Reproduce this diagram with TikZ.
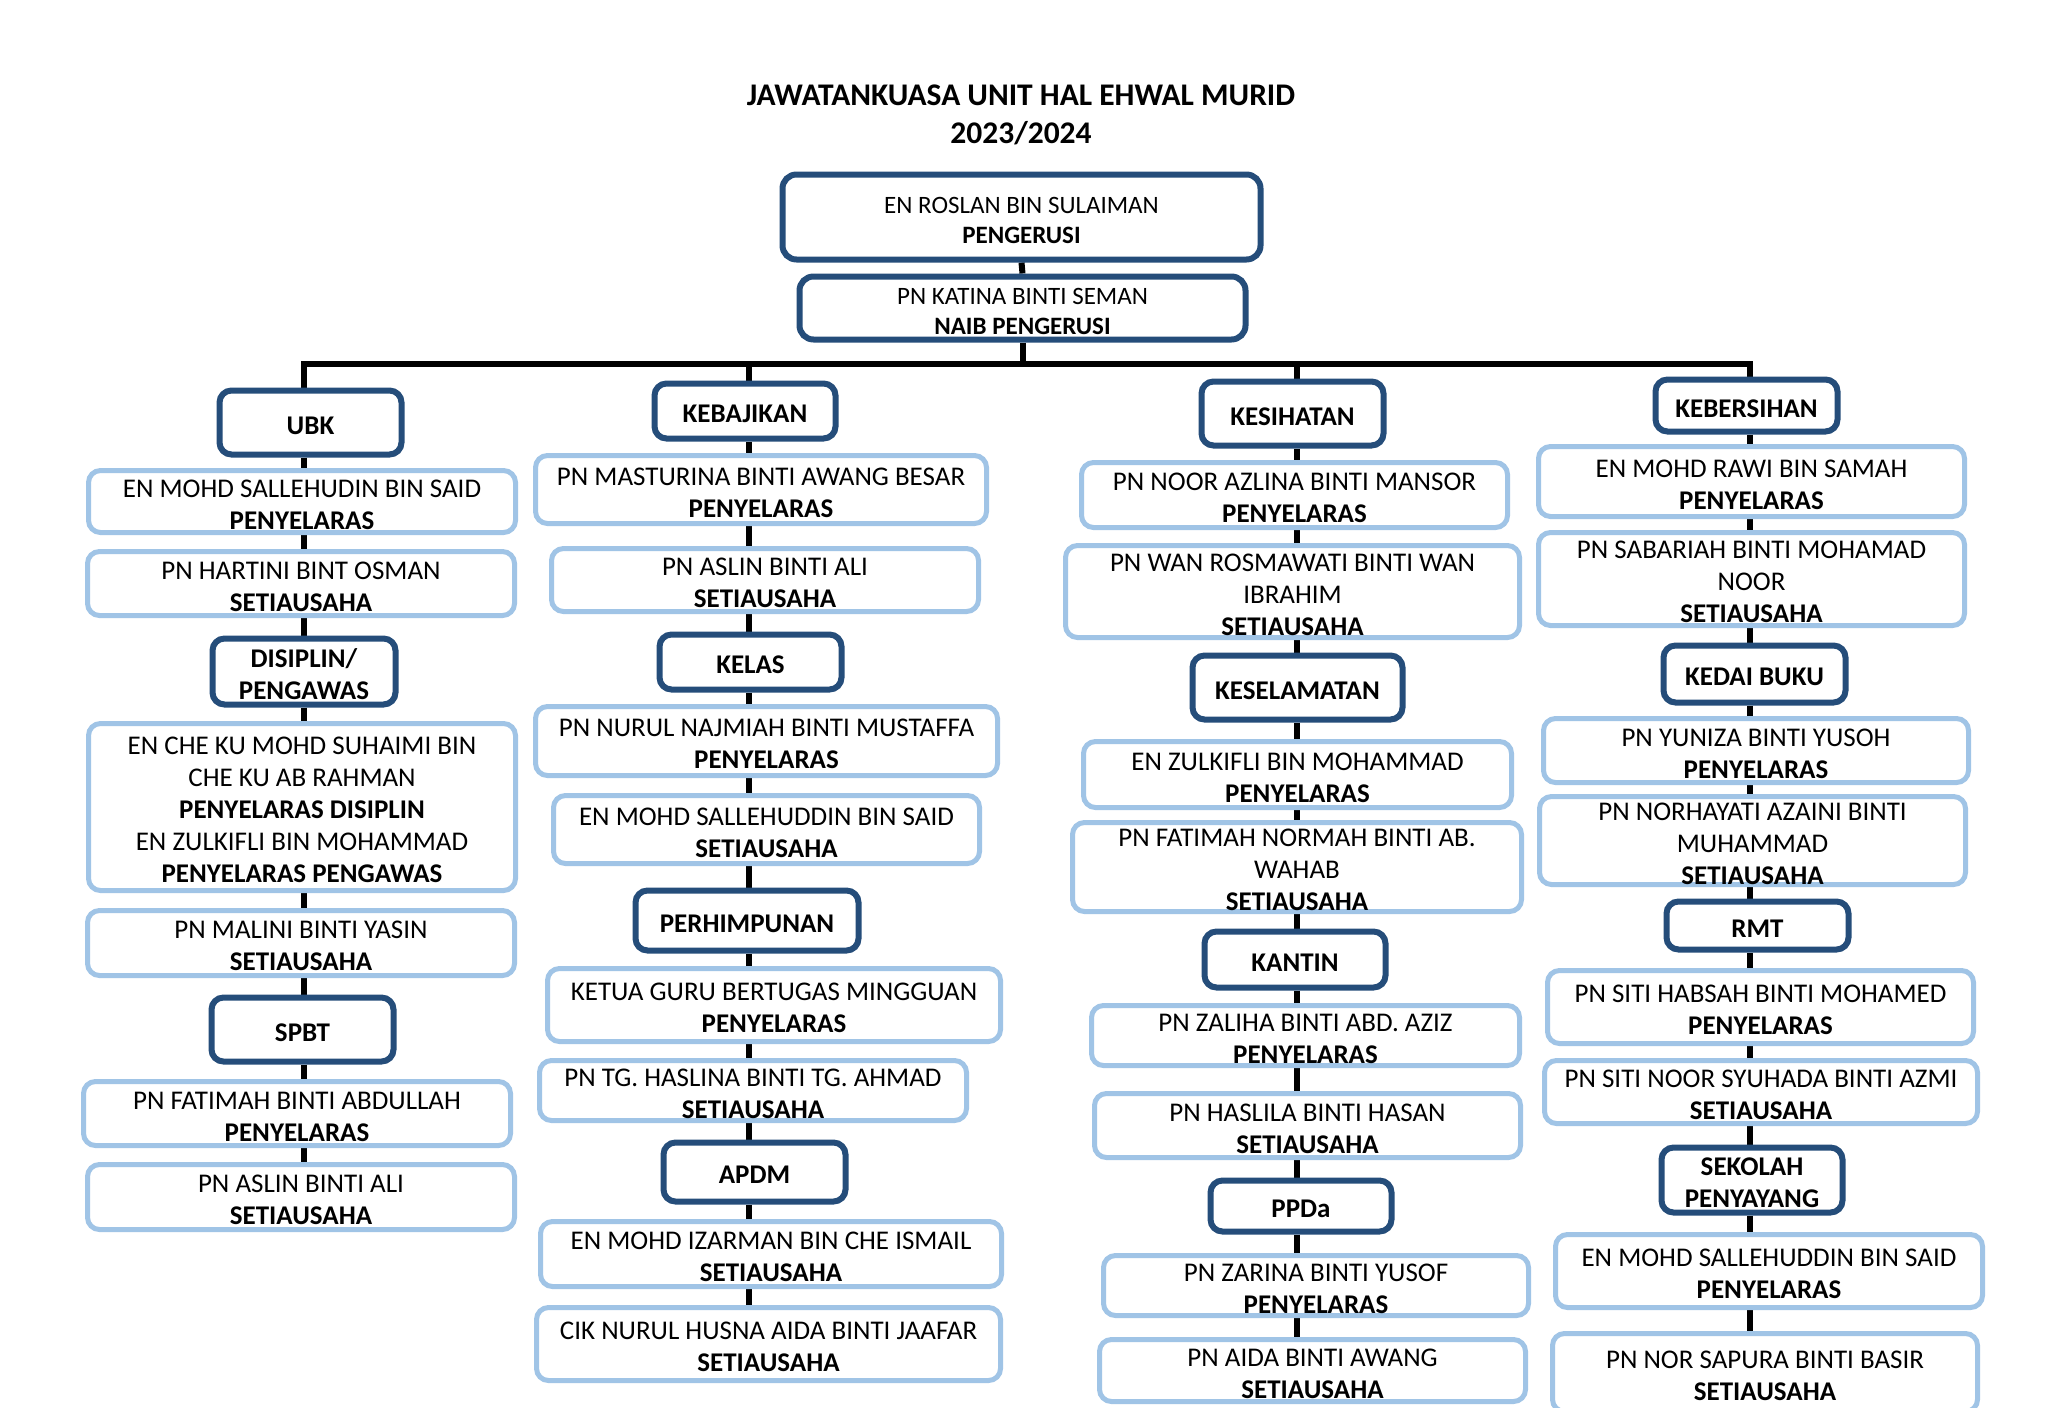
\documentclass[tikz,border=0pt]{standalone}
\usepackage{fontspec}
\setmainfont{Carlito}
\definecolor{dk}{RGB}{37,77,122}
\definecolor{lt}{RGB}{160,196,230}
\pgfdeclarelayer{bg}
\pgfsetlayers{bg,main}
\tikzset{
 lbox/.style={draw=lt, line width=5pt, rounded corners=12pt, fill=white, inner sep=0pt, align=center, font=\fontsize{27}{32}\selectfont},
 hbox/.style={draw=dk, line width=6pt, rounded corners=12pt, fill=white, inner sep=0pt, align=center, font=\fontsize{27}{32}\selectfont\bfseries},
 tbox/.style={draw=dk, line width=6pt, rounded corners=14pt, fill=white, inner sep=0pt, align=center, font=\fontsize{25}{30}\selectfont},
 conn/.style={line width=6pt, black},
}
\newcommand\bx[7]{%
 \pgfmathsetmacro\bxcx{(#3+#5)/2}%
 \pgfmathsetmacro\bxcy{(#4+#6)/2}%
 \pgfmathsetmacro\bxw{#5-#3-5}%
 \pgfmathsetmacro\bxh{#6-#4-5}%
 \node[#1, minimum width=\bxw pt, minimum height=\bxh pt] (#2) at (\bxcx pt,-\bxcy pt) {};
 \node[#1, draw=none, fill=none, minimum width=0pt, minimum height=0pt] (#2t) at ([yshift=-3pt]#2.center) {#7};}
\begin{document}
\begin{tikzpicture}
\useasboundingbox (0pt,0pt) rectangle (2048pt,-1408pt);
\begin{pgfonlayer}{bg}
\fill[white] (0pt,0pt) rectangle (2048pt,-1408pt);
\end{pgfonlayer}
\node[font=\fontsize{31.5}{38}\selectfont\bfseries, align=center] (title) at (1021pt,-115pt) {JAWATANKUASA UNIT HAL EHWAL MURID\\2023/2024};
% columns
\coordinate (c1) at (304pt,-364pt);
\coordinate (c2) at (749pt,-364pt);
\coordinate (c3) at (1297pt,-364pt);
\coordinate (c4) at (1750pt,-364pt);
\bx{tbox}{peng}{780}{172}{1263}{262}{EN ROSLAN BIN SULAIMAN\\\textbf{PENGERUSI}}
\bx{tbox}{naib}{797}{274}{1248}{342}{PN KATINA BINTI SEMAN\\\textbf{NAIB PENGERUSI}}
% column 1
\bx{hbox}{ubk}{217}{388}{404}{457}{UBK}
\bx{lbox}{a1}{86}{468}{518}{535}{EN MOHD SALLEHUDIN BIN SAID\\\textbf{PENYELARAS}}
\bx{lbox}{a2}{85}{549}{517}{618}{PN HARTINI BINT OSMAN\\\textbf{SETIAUSAHA}}
\bx{hbox}{disiplin}{210}{636}{398}{707}{DISIPLIN/\\PENGAWAS}
\bx{lbox}{a3}{86}{721}{518}{893}{EN CHE KU MOHD SUHAIMI BIN\\CHE KU AB RAHMAN\\\textbf{PENYELARAS DISIPLIN}\\EN ZULKIFLI BIN MOHAMMAD\\\textbf{PENYELARAS PENGAWAS}}
\bx{lbox}{a4}{85}{908}{517}{978}{PN MALINI BINTI YASIN\\\textbf{SETIAUSAHA}}
\bx{hbox}{spbt}{209}{995}{396}{1064}{SPBT}
\bx{lbox}{a5}{81}{1079}{513}{1148}{PN FATIMAH BINTI ABDULLAH\\\textbf{PENYELARAS}}
\bx{lbox}{a6}{85}{1162}{517}{1232}{PN ASLIN BINTI ALI\\\textbf{SETIAUSAHA}}
% column 2
\bx{hbox}{kebajikan}{652}{381}{838}{441}{KEBAJIKAN}
\bx{lbox}{b1}{533}{453}{989}{526}{PN MASTURINA BINTI AWANG BESAR\\\textbf{PENYELARAS}}
\bx{lbox}{b2}{549}{546}{981}{614}{PN ASLIN BINTI ALI\\\textbf{SETIAUSAHA}}
\bx{hbox}{kelas}{657}{632}{844}{692}{KELAS}
\bx{lbox}{b3}{533}{704}{1000}{778}{PN NURUL NAJMIAH BINTI MUSTAFFA\\\textbf{PENYELARAS}}
\bx{lbox}{b4}{551}{793}{982}{866}{EN MOHD SALLEHUDDIN BIN SAID\\\textbf{SETIAUSAHA}}
\bx{hbox}{perhimpunan}{633}{888}{861}{953}{PERHIMPUNAN}
\bx{lbox}{b5}{545}{966}{1003}{1044}{KETUA GURU BERTUGAS MINGGUAN\\\textbf{PENYELARAS}}
\bx{lbox}{b6}{537}{1058}{969}{1123}{PN TG. HASLINA BINTI TG. AHMAD\\\textbf{SETIAUSAHA}}
\bx{hbox}{apdm}{661}{1140}{848}{1204}{APDM}
\bx{lbox}{b7}{538}{1219}{1004}{1289}{EN MOHD IZARMAN BIN CHE ISMAIL\\\textbf{SETIAUSAHA}}
\bx{lbox}{b8}{534}{1305}{1003}{1383}{CIK NURUL HUSNA AIDA BINTI JAAFAR\\\textbf{SETIAUSAHA}}
% column 3
\bx{hbox}{kesihatan}{1199}{379}{1386}{448}{KESIHATAN}
\bx{lbox}{d1}{1079}{460}{1510}{530}{PN NOOR AZLINA BINTI MANSOR\\\textbf{PENYELARAS}}
\bx{lbox}{d2}{1063}{543}{1522}{640}{PN WAN ROSMAWATI BINTI WAN\\IBRAHIM\\\textbf{SETIAUSAHA}}
\bx{hbox}{keselamatan}{1190}{653}{1405}{722}{KESELAMATAN}
\bx{lbox}{d3}{1081}{739}{1514}{810}{EN ZULKIFLI BIN MOHAMMAD\\\textbf{PENYELARAS}}
\bx{lbox}{d4}{1070}{820}{1524}{914}{PN FATIMAH NORMAH BINTI AB.\\WAHAB\\\textbf{SETIAUSAHA}}
\bx{hbox}{kantin}{1202}{929}{1388}{990}{KANTIN}
\bx{lbox}{d5}{1089}{1003}{1522}{1068}{PN ZALIHA BINTI ABD. AZIZ\\\textbf{PENYELARAS}}
\bx{lbox}{d6}{1092}{1091}{1523}{1160}{PN HASLILA BINTI HASAN\\\textbf{SETIAUSAHA}}
\bx{hbox}{ppda}{1208}{1178}{1394}{1234}{PPDa}
\bx{lbox}{d7}{1101}{1253}{1531}{1318}{PN ZARINA BINTI YUSOF\\\textbf{PENYELARAS}}
\bx{lbox}{d8}{1097}{1337}{1528}{1404}{PN AIDA BINTI AWANG\\\textbf{SETIAUSAHA}}
% column 4
\bx{hbox}{kebersihan}{1653}{377}{1840}{434}{KEBERSIHAN}
\bx{lbox}{e1}{1536}{444}{1967}{519}{EN MOHD RAWI BIN SAMAH\\\textbf{PENYELARAS}}
\bx{lbox}{e2}{1536}{530}{1967}{628}{PN SABARIAH BINTI MOHAMAD\\NOOR\\\textbf{SETIAUSAHA}}
\bx{hbox}{kedai}{1661}{643}{1848}{705}{KEDAI BUKU}
\bx{lbox}{e3}{1541}{716}{1971}{785}{PN YUNIZA BINTI YUSOH\\\textbf{PENYELARAS}}
\bx{lbox}{e4}{1537}{794}{1968}{887}{PN NORHAYATI AZAINI BINTI\\MUHAMMAD\\\textbf{SETIAUSAHA}}
\bx{hbox}{rmt}{1664}{899}{1851}{952}{RMT}
\bx{lbox}{e5}{1545}{968}{1976}{1046}{PN SITI HABSAH BINTI MOHAMED\\\textbf{PENYELARAS}}
\bx{lbox}{e6}{1542}{1058}{1980}{1126}{PN SITI NOOR SYUHADA BINTI AZMI\\\textbf{SETIAUSAHA}}
\bx{hbox}{sekolah}{1659}{1145}{1845}{1215}{SEKOLAH\\PENYAYANG}
\bx{lbox}{e7}{1553}{1232}{1985}{1310}{EN MOHD SALLEHUDDIN BIN SAID\\\textbf{PENYELARAS}}
\bx{lbox}{e8}{1550}{1331}{1980}{1414}{PN NOR SAPURA BINTI BASIR\\\textbf{SETIAUSAHA}}
% connectors (behind boxes and text)
\begin{pgfonlayer}{bg}
\draw[conn] (peng.south) -- (naib.north);
\draw[conn] (naib.south) -- (naib.south |- c1);
\draw[conn, line join=miter] (ubk.north -| c1) -- (c1) -- (c4) -- (kebersihan.north -| c4);
\draw[conn] (c2) -- (kebajikan.north -| c2);
\draw[conn] (c3) -- (kesihatan.north -| c3);
\foreach \p/\q in {ubk/a1,a1/a2,a2/disiplin,disiplin/a3,a3/a4,a4/spbt,spbt/a5,a5/a6}
  \draw[conn] (\p.south -| c1) -- (\q.north -| c1);
\foreach \p/\q in {kebajikan/b1,b1/b2,b2/kelas,kelas/b3,b3/b4,b4/perhimpunan,perhimpunan/b5,b5/b6,b6/apdm,apdm/b7,b7/b8}
  \draw[conn] (\p.south -| c2) -- (\q.north -| c2);
\foreach \p/\q in {kesihatan/d1,d1/d2,d2/keselamatan,keselamatan/d3,d3/d4,d4/kantin,kantin/d5,d5/d6,d6/ppda,ppda/d7,d7/d8}
  \draw[conn] (\p.south -| c3) -- (\q.north -| c3);
\foreach \p/\q in {kebersihan/e1,e1/e2,e2/kedai,kedai/e3,e3/e4,e4/rmt,rmt/e5,e5/e6,e6/sekolah,sekolah/e7,e7/e8}
  \draw[conn] (\p.south -| c4) -- (\q.north -| c4);
\end{pgfonlayer}
\end{tikzpicture}
\end{document}
